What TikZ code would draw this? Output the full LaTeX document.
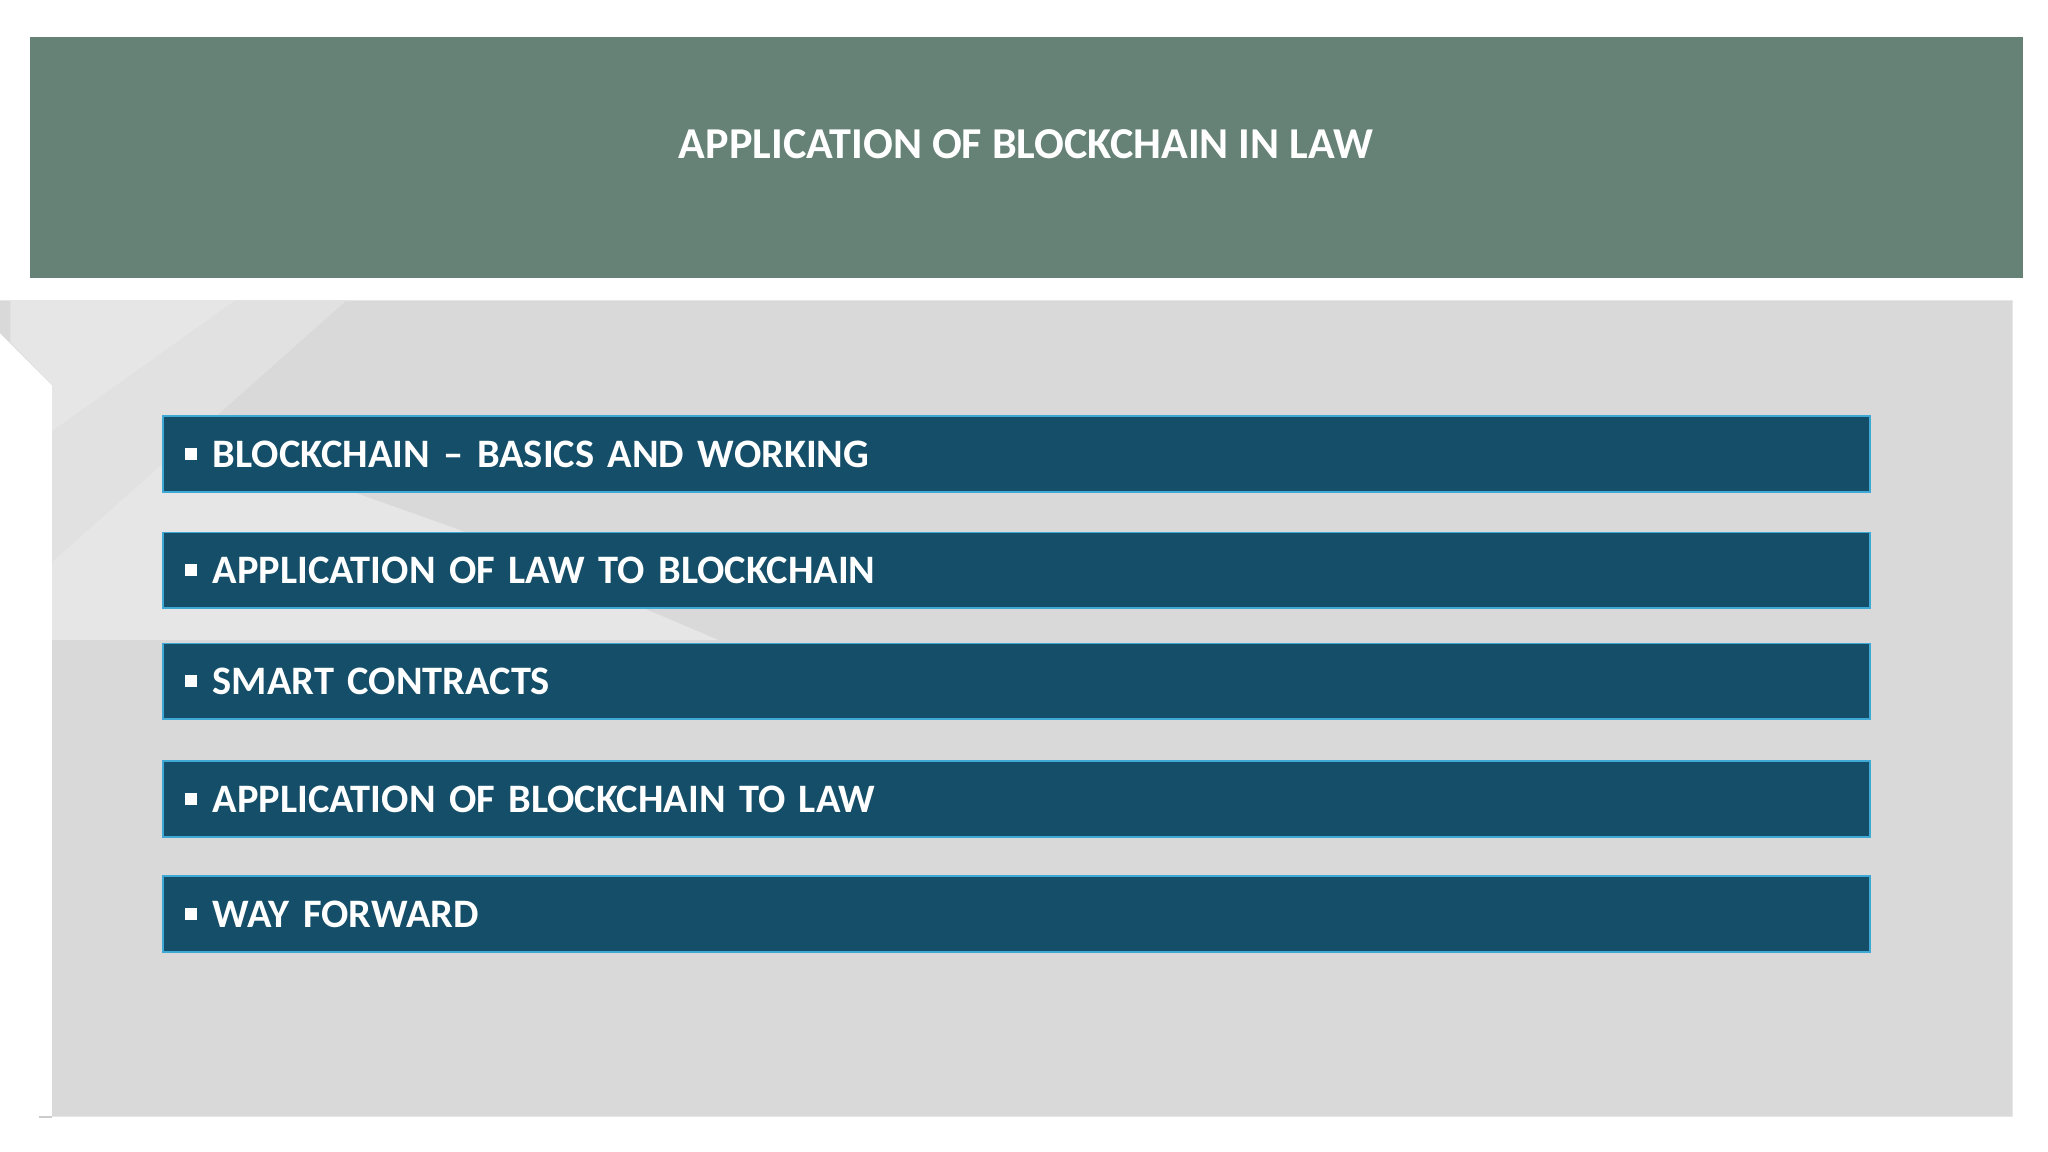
\documentclass[tikz,border=0pt]{standalone}
\usepackage{fontspec}
\setmainfont{Carlito}
\definecolor{headgreen}{HTML}{668277}
\definecolor{itemblue}{HTML}{154E68}
\definecolor{itemedge}{HTML}{3FA9D6}
\definecolor{panelgray}{HTML}{D9D9DA}
\definecolor{lightgray}{HTML}{E6E6E7}
\newcommand{\itemmark}{\hspace{2.5pt}\raisebox{1.6pt}{\rule{2.6pt}{2.6pt}}\hspace{3.5pt}}
\begin{document}
\begin{tikzpicture}[x=0.01cm,y=-0.01cm,
  itembox/.style={draw=itemedge, line width=0.4pt, fill=itemblue, text=white,
    minimum width=13.06cm, minimum height=0.58cm, anchor=north west, inner sep=0pt,
    text width=12.9cm, align=left, font=\fontsize{8.8}{10}\selectfont\bfseries}]
\useasboundingbox (0,0) rectangle (1568,882);
\fill[white] (0,0) rectangle (1568,882);

%========================================
% HEADER
%========================================
\node[fill=headgreen, text=white, minimum width=15.25cm, minimum height=1.84cm,
  anchor=north west, inner sep=0pt, font=\fontsize{9.6}{11}\selectfont\bfseries]
  (title) at (22,28) {\raisebox{6pt}{APPLICATION OF BLOCKCHAIN IN LAW}};

%========================================
% PANEL with light facets
%========================================
\fill[panelgray] (0,230) -- (1541,230) -- (1541,855) -- (40,855) -- (40,295) -- (0,255) -- cycle;
\fill[lightgray] (8,230) -- (265,230) -- (40,430) -- (40,295) -- (8,262) -- cycle;
\fill[lightgray] (40,295) -- (350,405) -- (550,490) -- (40,490) -- cycle;
\fill[lightgray!60!panelgray] (265,230) -- (40,430) -- (40,330) -- (180,230) -- cycle;
\draw[gray!40] (30,855) -- (40,855);

%========================================
% ITEMS
%========================================
\node[itembox] (i1) at (124,318) {\itemmark BLOCKCHAIN -- BASICS AND WORKING};
\node[itembox] (i2) at (124,407) {\itemmark APPLICATION OF LAW TO BLOCKCHAIN};
\node[itembox] (i3) at (124,492) {\itemmark SMART CONTRACTS};
\node[itembox] (i4) at (124,582) {\itemmark APPLICATION OF BLOCKCHAIN TO LAW};
\node[itembox] (i5) at (124,670) {\itemmark WAY FORWARD};
\end{tikzpicture}
\end{document}
